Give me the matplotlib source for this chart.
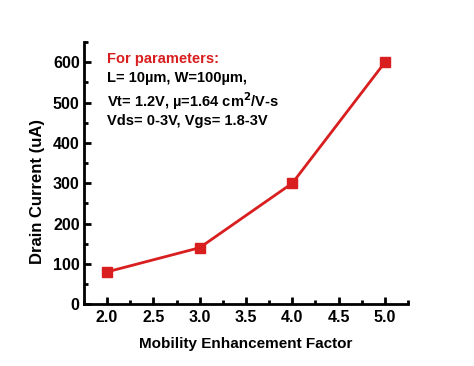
import matplotlib.pyplot as plt
from matplotlib.ticker import MultipleLocator

# data
factor = [2.0, 3.0, 4.0, 5.0]
current = [80, 140, 300, 600]
xticks = [2.0, 2.5, 3.0, 3.5, 4.0, 4.5, 5.0]
yticks = [0, 100, 200, 300, 400, 500, 600]

plt.rcParams['font.family'] = ['Liberation Sans', 'DejaVu Sans']
plt.rcParams['font.weight'] = 'bold'

fig = plt.figure(figsize=(4.74, 3.66), dpi=100)
ax = fig.add_axes([0.177, 0.169, 0.684, 0.716])

red = '#d81e1e'
ax.plot(factor, current, color=red, lw=2, marker='s', ms=7, mec=red, mfc=red)

ax.set_xlim(1.75, 5.25)
ax.set_ylim(0, 650)
ax.set_xticks(xticks)
ax.set_yticks(yticks)
ax.xaxis.set_minor_locator(MultipleLocator(0.25))
ax.yaxis.set_minor_locator(MultipleLocator(50))
ax.set_xticklabels([f'{v:.1f}' for v in xticks])
ax.tick_params(direction='in', which='major', length=5, width=2, labelsize=11.5, pad=4)
ax.tick_params(axis='y', pad=3)
ax.tick_params(direction='in', which='minor', length=3, width=2)

for s in ['top', 'right']:
    ax.spines[s].set_visible(False)
for s in ['left', 'bottom']:
    ax.spines[s].set_linewidth(2)

ax.set_xlabel('Mobility Enhancement Factor', fontsize=11, fontweight='bold', labelpad=9)
ax.set_ylabel('Drain Current (uA)', fontsize=12, fontweight='bold')
ax.yaxis.set_label_coords(-0.12, 0.43)

x0 = 0.071
ax.text(x0, 0.920, 'For parameters:', transform=ax.transAxes, color=red,
        fontsize=10.5, fontweight='bold', va='baseline')
ax.text(x0, 0.847, 'L= 10µm, W=100µm,', transform=ax.transAxes,
        fontsize=10.5, fontweight='bold', va='baseline')
ax.text(x0, 0.752, r'Vt= 1.2V, µ=1.64 cm$^{\mathbf{2}}$/V-s', transform=ax.transAxes,
        fontsize=10.5, fontweight='bold', va='baseline')
ax.text(x0, 0.683, 'Vds= 0-3V, Vgs= 1.8-3V', transform=ax.transAxes,
        fontsize=10.5, fontweight='bold', va='baseline')

fig.savefig('out.png', dpi=100)
